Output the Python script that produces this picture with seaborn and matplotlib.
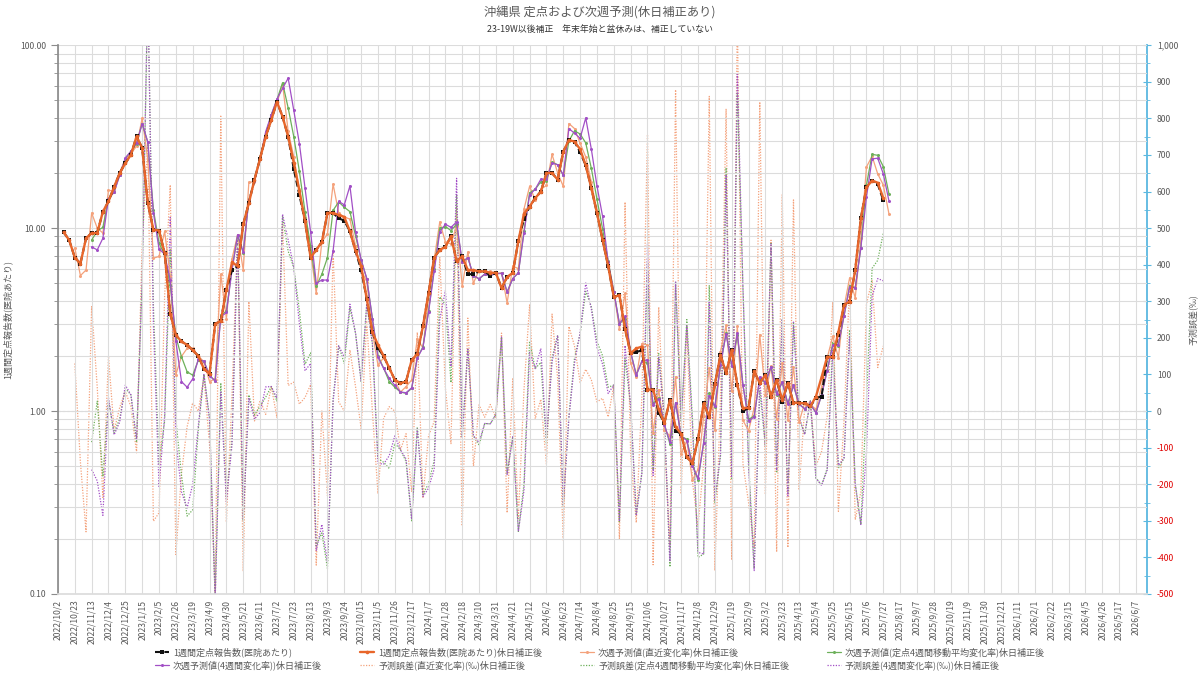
import pandas as pd
import matplotlib
matplotlib.use("Agg")
import matplotlib.pyplot as plt
import matplotlib.ticker as mticker
import seaborn as sns

# 週 (2022/10/2 から 195 週分のカテゴリ)
weeks = pd.date_range("2022-10-02", periods=195, freq="7D")
tick_weeks = weeks[::3]
tick_labels = [f"{d.year}/{d.month}/{d.day}" for d in tick_weeks]

# 1週間定点報告数 (週番号 1 から)
obs_start = 1
raw_cases = [
    9.5, 8.6, 6.9, 6.4, 8.8, 9.4, 9.4, 12.3, 14.0, 16.8,
    20.0, 22.6, 25.2, 31.7, 27.4, 13.7, 9.8, 9.7, 7.3, 3.4,
    2.6, 2.4, 2.3, 2.15, 2.0, 1.7, 1.6, 3.0, 3.1, 4.6,
    5.9, 6.2, 10.5, 13.7, 18.4, 24.0, 31.6, 39.0, 49.0, 40.7,
    31.6, 21.0, 15.2, 10.9, 6.9, 7.6, 8.4, 12.1, 12.1, 11.3,
    11.0, 9.6, 7.5, 5.9, 4.1, 2.7, 2.2, 2.0, 1.72, 1.48,
    1.42, 1.45, 1.9, 2.05, 2.9, 4.4, 6.9, 7.6, 7.9, 9.0,
    6.6, 7.0, 5.6, 5.6, 5.8, 5.8, 5.5, 5.7, 4.7, 5.4,
    5.7, 8.5, 11.2, 13.1, 14.6, 15.8, 20.0, 20.0, 18.4, 26.2,
    30.3, 29.7, 26.0, 22.0, 16.5, 12.1, 8.6, 6.2, 4.2, 4.3,
    2.8, 2.07, 2.1, 2.15, 1.31, 1.31, 0.98, 0.86, 1.15, 0.78,
    0.75, 0.56, 0.52, 0.7, 1.1, 0.93, 1.4, 2.03, 1.61, 2.16,
    1.39, 1.0, 1.04, 1.65, 1.42, 1.58, 1.2, 1.48, 1.12, 1.42,
    1.11, 1.11, 1.1, 1.06, 1.18, 1.2, 1.98, 1.97, 2.6, 3.8,
    3.97, 5.9, 11.3, 16.7, 18.2, 17.4, 14.2,
]
adj_cases = [
    9.5, 8.6, 6.9, 6.4, 8.8, 9.4, 9.4, 12.3, 14.0, 16.8,
    20.0, 22.6, 25.2, 31.7, 27.4, 13.7, 9.8, 9.7, 7.3, 3.4,
    2.6, 2.4, 2.3, 2.15, 2.0, 1.7, 1.6, 3.0, 3.1, 4.6,
    6.5, 6.2, 10.5, 13.7, 18.4, 24.0, 31.6, 39.0, 49.0, 40.7,
    31.6, 22.7, 16.0, 10.9, 6.9, 7.6, 8.4, 12.1, 12.1, 11.8,
    11.5, 9.6, 7.5, 6.2, 4.1, 2.7, 2.3, 2.0, 1.72, 1.48,
    1.42, 1.45, 1.9, 2.05, 2.9, 4.4, 6.9, 7.6, 7.9, 9.0,
    6.6, 7.0, 5.9, 5.9, 5.8, 5.8, 5.7, 5.7, 4.7, 5.4,
    5.7, 8.5, 12.0, 13.1, 14.6, 15.8, 20.0, 20.0, 18.4, 26.2,
    30.3, 29.7, 27.0, 22.0, 16.5, 12.1, 8.6, 6.2, 4.2, 4.3,
    2.8, 2.07, 2.2, 2.25, 1.31, 1.31, 1.02, 0.86, 1.15, 0.82,
    0.75, 0.56, 0.52, 0.7, 1.1, 0.93, 1.4, 2.03, 1.61, 2.16,
    1.39, 1.04, 1.04, 1.65, 1.42, 1.58, 1.2, 1.48, 1.15, 1.42,
    1.11, 1.11, 1.1, 1.06, 1.2, 1.53, 1.98, 1.97, 2.7, 3.8,
    3.97, 5.9, 11.3, 16.7, 18.2, 17.7, 14.6,
]

# 次週予測値(直近変化率) 週番号 3 から
pred_a_start = 3
pred_recent = [
    7.8, 5.5, 5.9, 12.1, 10.0, 9.4, 16.1, 15.9,
    20.2, 23.8, 25.5, 28.1, 39.9, 23.7, 6.85, 7.0, 9.6, 5.5,
    1.58, 1.99, 2.2, 2.2, 2.0, 1.86, 1.45, 1.5, 5.6, 3.2,
    6.8, 9.2, 5.9, 17.8, 17.9, 24.7, 31.3, 41.6, 48.1, 61.6,
    33.8, 24.5, 16.3, 11.3, 7.4, 4.4, 8.4, 9.3, 17.4, 12.1,
    11.5, 11.2, 8.0, 5.9, 5.1, 2.7, 1.78, 1.96, 1.74, 1.48,
    1.27, 1.36, 1.48, 2.49, 2.21, 4.1, 6.7, 10.8, 8.4, 8.2,
    10.3, 4.8, 7.4, 5.0, 5.9, 5.7, 5.8, 5.6, 5.7, 3.9,
    6.2, 6.0, 12.7, 16.9, 14.3, 16.3, 17.1, 25.3, 20.0, 16.9,
    37.3, 35.0, 29.1, 24.5, 17.9, 12.4, 8.9, 6.1, 4.5, 2.8,
    4.4, 1.82, 1.53, 2.34, 2.3, 0.76, 1.31, 0.79, 0.73, 1.54,
    0.58, 0.69, 0.42, 0.48, 0.94, 1.73, 0.79, 2.11, 2.94, 1.28,
    2.9, 0.89, 0.78, 1.04, 2.62, 1.22, 1.76, 0.91, 1.83, 0.89,
    1.75, 0.87, 1.11, 1.09, 1.02, 1.36, 1.95, 2.56, 1.96, 3.7,
    5.35, 4.15, 8.8, 21.6, 24.7, 19.8, 17.2, 12.0,
]

# 次週予測値(定点4週間移動平均変化率) / (4週間変化率) 週番号 6 から
pred_bc_start = 6
pred_ma4 = [
    8.6, 9.65, 10.1, 14.4, 15.8,
    19.6, 24.0, 26.3, 29.0, 37.3, 29.4, 12.6, 8.3, 7.1, 4.9,
    2.54, 1.98, 1.64, 1.57, 1.9, 1.87, 1.57, 1.46, 3.34, 3.51,
    6.0, 9.1, 7.35, 14.3, 18.2, 24.3, 32.8, 41.6, 50.3, 62.3,
    45.4, 31.6, 20.4, 12.3, 8.0, 4.8, 5.6, 6.9, 12.5, 13.9,
    13.0, 12.3, 9.1, 6.7, 5.3, 3.2, 2.0, 1.72, 1.45, 1.35,
    1.27, 1.25, 1.33, 1.96, 2.24, 3.53, 5.96, 9.97, 10.2, 9.7,
    10.5, 6.5, 6.9, 5.5, 5.26, 5.6, 5.5, 5.65, 5.65, 4.48,
    5.3, 5.7, 9.6, 15.6, 16.3, 17.9, 18.2, 22.9, 22.2, 19.4,
    29.9, 34.0, 32.7, 29.2, 21.2, 14.4, 9.9, 6.6, 4.5, 3.0,
    3.2, 2.1, 1.58, 1.87, 1.84, 1.1, 1.18, 0.85, 0.66, 1.11,
    0.73, 0.70, 0.51, 0.42, 0.67, 1.25, 1.05, 1.78, 2.68, 1.76,
    2.6, 1.39, 0.9, 0.94, 1.5, 1.43, 1.75, 1.23, 1.44, 1.1,
    1.38, 1.09, 1.03, 1.09, 0.98, 1.22, 1.67, 2.34, 2.28, 3.31,
    4.85, 4.73, 7.8, 17.2, 25.3, 25.0, 21.7, 15.4,
]
pred_4wk = [
    7.9, 7.6, 8.8, 14.5, 15.7,
    19.4, 24.2, 26.3, 29.2, 37.2, 29.6, 12.1, 7.7, 7.2, 5.2,
    2.4, 1.45, 1.35, 1.5, 1.92, 1.87, 1.56, 1.46, 3.26, 3.46,
    5.9, 9.2, 7.4, 14.2, 18.0, 23.9, 33.7, 41.6, 50.7, 58.0,
    66.0, 44.0, 29.0, 16.6, 9.5, 5.0, 5.2, 5.2, 7.5, 14.0,
    13.4, 17.0, 9.5, 6.7, 5.3, 3.2, 1.97, 1.71, 1.51, 1.38,
    1.27, 1.26, 1.34, 1.95, 2.22, 3.47, 5.8, 9.5, 10.5, 10.1,
    10.8, 6.5, 6.9, 5.5, 5.3, 5.6, 5.5, 5.65, 5.65, 4.46,
    5.3, 5.7, 9.4, 15.2, 16.3, 18.5, 18.5, 22.7, 22.2, 19.5,
    35.0, 33.0, 31.0, 40.0, 27.0, 17.0, 11.6, 6.5, 4.5, 3.0,
    3.3, 2.1, 1.57, 1.87, 1.91, 1.08, 1.17, 0.84, 0.68, 1.11,
    0.73, 0.69, 0.50, 0.43, 0.67, 1.21, 1.06, 1.79, 2.65, 1.77,
    2.67, 1.39, 0.88, 0.93, 1.54, 1.43, 1.75, 1.24, 1.44, 1.09,
    1.38, 1.09, 1.03, 1.09, 0.98, 1.22, 1.66, 2.29, 2.3, 3.31,
    4.77, 4.72, 7.8, 14.8, 23.9, 24.1, 19.8, 14.1,
]

# 予測誤差(‰)
err_a_start = 3
err_recent = [
    130, -140, -330, 287, 64, -236, 150, -54,
    10, 53, 12, -114, 456, 730, -301, -278, 315, 618,
    -392, -171, -43, 23, 0, 94, -94, -500, 806, -304,
    46, 484, -438, 299, -27, 29, -9, 67, -18, 514,
    70, 79, 19, 37, 72, -421, 0, -231, 438, 25,
    0, 167, 67, -48, 244, 0, -226, -20, 12, 0,
    -106, -62, -221, 215, -238, -68, -29, 421, 63, -89,
    560, -314, 254, -153, 17, -17, 18, -18, 213, -278,
    88, -294, 58, 290, -21, 32, -145, 265, 87, -355,
    231, 178, 78, 114, 85, 25, 35, -16, 71, -349,
    571, -121, -305, 40, 756, -420, 284, -81, -365, 878,
    -227, 232, -192, -314, -145, 860, -436, 39, 826, -407,
    1086, -144, -250, -370, 845, -228, 467, -385, 591, -373,
    577, -216, 9, 28, -150, -111, -15, 299, -274, -26,
    348, -297, -221, 293, 357, 119, 178,
]
err_bc_start = 6
err_ma4 = [
    -85, 27, -179, 29, -60,
    -20, 62, 44, -85, 361, 1146, 286, -144, -27, 441,
    -23, -175, -287, -270, -50, 100, -19, -513, 77, -237,
    -77, 468, -300, 44, -11, 13, 38, 67, 27, 531,
    437, 392, 275, 128, 159, -368, -333, -430, 33, 178,
    130, 281, 213, 81, 293, 185, -130, -140, -157, -88,
    -106, -138, -300, -44, -228, -198, -136, 312, 291, 78,
    591, -71, 169, -68, -93, -34, -35, -9, 202, -170,
    -70, -329, -200, 191, 116, 133, -90, 145, 207, -260,
    -13, 145, 211, 327, 285, 190, 151, 65, 71, -302,
    143, 14, -282, -169, 405, -160, 157, -12, -426, 354,
    -27, 250, -19, -400, -391, 344, -250, -123, 665, -185,
    871, 337, -135, -430, 56, -95, 458, -169, 252, -225,
    243, -18, -64, 28, -183, -203, -157, 188, -156, -129,
    222, -198, -310, 30, 390, 412, 486,
]
err_4wk = [
    -160, -191, -285, 36, -65,
    -30, 71, 44, -79, 358, 1161, 235, -206, -14, 529,
    -77, -221, -265, -200, -40, 100, -25, -513, 52, -248,
    -92, 484, -295, 36, -22, -4, 66, 67, 35, 538,
    468, 392, 238, 110, 130, -382, -310, -413, 25, 178,
    148, 292, 213, 81, 293, 185, -143, -145, -122, -68,
    -106, -131, -295, -49, -234, -211, -159, 250, 329, 122,
    636, -71, 169, -68, -86, -34, -35, -9, 202, -174,
    -70, -329, -217, 160, 116, 171, -75, 135, 207, -256,
    -20, 131, 215, 350, 279, 174, 128, 48, 71, -302,
    179, 14, -286, -169, 458, -176, 147, -23, -409, 354,
    -27, 232, -38, -386, -391, 301, -243, -118, 646, -181,
    921, 337, -154, -436, 85, -95, 458, -162, 252, -232,
    243, -18, -64, 28, -183, -203, -162, 162, -148, -129,
    202, -200, -310, -114, 313, 362, 356,
]


def series_df(values, first):
    return pd.DataFrame({"週": weeks[first:first + len(values)], "値": values})


sns.set_theme(style="white")
plt.rcParams["font.family"] = ["Noto Sans CJK JP", "DejaVu Sans"]
plt.rcParams["axes.unicode_minus"] = False

fig = plt.figure(figsize=(12, 6.74), dpi=100)
ax = fig.add_axes([0.0483, 0.1187, 0.9077, 0.8143])
ax2 = ax.twinx()
ax.set_zorder(ax2.get_zorder() + 1)
ax.patch.set_visible(False)

text_gray = "#595959"
c_main = "#E8662A"
c_recent = "#F4A27C"
c_ma4 = "#6DB05A"
c_4wk = "#A24FC6"

# 予測誤差 (右軸)
ax2.axhline(0, color="#cfcfcf", lw=0.8, ls=(0, (2, 2)), zorder=0)
sns.lineplot(data=series_df(err_recent, err_a_start), x="週", y="値", ax=ax2,
             color=c_recent, linewidth=0.9, linestyle=(0, (1, 1.2)),
             label="予測誤差(直近変化率)(‰)休日補正後")
sns.lineplot(data=series_df(err_ma4, err_bc_start), x="週", y="値", ax=ax2,
             color=c_ma4, linewidth=0.9, linestyle=(0, (1, 1.2)),
             label="予測誤差(定点4週間移動平均変化率)休日補正後")
sns.lineplot(data=series_df(err_4wk, err_bc_start), x="週", y="値", ax=ax2,
             color=c_4wk, linewidth=0.9, linestyle=(0, (1, 1.2)),
             label="予測誤差(4週間変化率)(‰))休日補正後")

# 定点報告数と次週予測 (左軸)
sns.lineplot(data=series_df(pred_recent, pred_a_start), x="週", y="値", ax=ax,
             color=c_recent, linewidth=0.9, marker="o", markersize=2.2,
             markeredgewidth=0, label="次週予測値(直近変化率)休日補正後", zorder=3)
sns.lineplot(data=series_df(pred_ma4, pred_bc_start), x="週", y="値", ax=ax,
             color=c_ma4, linewidth=0.9, marker="o", markersize=2.2,
             markeredgewidth=0, label="次週予測値(定点4週間移動平均変化率)休日補正後", zorder=3)
sns.lineplot(data=series_df(pred_4wk, pred_bc_start), x="週", y="値", ax=ax,
             color=c_4wk, linewidth=0.9, marker="o", markersize=2.2,
             markeredgewidth=0, label="次週予測値(4週間変化率))休日補正後", zorder=3)
sns.lineplot(data=series_df(raw_cases, obs_start), x="週", y="値", ax=ax,
             color="#111111", linewidth=1.5, linestyle=(0, (3, 1.5)), marker="s",
             markersize=2.2, markeredgewidth=0, label="1週間定点報告数(医院あたり)", zorder=4)
sns.lineplot(data=series_df(adj_cases, obs_start), x="週", y="値", ax=ax,
             color=c_main, linewidth=1.7, marker="o", markersize=2.6,
             markeredgewidth=0, label="1週間定点報告数(医院あたり)休日補正後", zorder=5)

for a in (ax, ax2):
    if a.get_legend() is not None:
        a.get_legend().remove()

# 左軸 (対数)
ax.set_yscale("log")
ax.set_ylim(0.1, 100)
ax.set_yticks([0.1, 1, 10, 100])
ax.set_yticklabels(["0.10", "1.00", "10.00", "100.00"])
ax.yaxis.set_minor_locator(mticker.LogLocator(base=10, subs=range(2, 10)))
ax.yaxis.set_minor_formatter(mticker.NullFormatter())
ax.set_ylabel("1週間定点報告数(医院あたり)", fontsize=6.5, color=text_gray)
ax.yaxis.set_label_coords(-0.042, 0.5)
ax.tick_params(axis="y", which="major", labelsize=6.2, colors=text_gray, length=5,
               direction="out", left=True, color="#8c8c8c", width=0.8)
ax.tick_params(axis="y", which="minor", length=3, direction="out", left=True,
               color="#8c8c8c", width=0.6)

# X 軸
ax.set_xlim(weeks[0], weeks[194])
ax.set_xticks(tick_weeks)
ax.set_xticklabels(tick_labels, rotation=90)
ax.tick_params(axis="x", labelsize=6.2, colors=text_gray, length=0, pad=4)
ax.set_xlabel("")
ax.grid(which="major", axis="both", color="#dcdcdc", linewidth=0.8)
ax.grid(which="minor", axis="y", color="#dcdcdc", linewidth=0.8)
ax.set_axisbelow(True)

# 右軸 (‰)
err_ticks = list(range(-500, 1001, 100))
ax2.set_ylim(-500, 1000)
ax2.set_yticks(err_ticks)
ax2.set_yticklabels([f"{t:,}" for t in err_ticks])
ax2.yaxis.set_minor_locator(mticker.MultipleLocator(50))
for t, lab in zip(err_ticks, ax2.get_yticklabels()):
    lab.set_color("#E00000" if t < 0 else text_gray)
ax2.tick_params(axis="y", which="major", labelsize=6.2, length=6, direction="inout",
                right=True, color="#5BB8E0", width=0.8, pad=4)
ax2.tick_params(axis="y", which="minor", length=4, direction="inout", right=True,
                color="#5BB8E0", width=0.6)
ax2.set_ylabel("予測誤差(‰)", fontsize=6.5, color=text_gray, rotation=90)
ax2.yaxis.set_label_coords(1.037, 0.5)
ax2.set_xlabel("")

for name in ("top", "right"):
    ax.spines[name].set_visible(False)
ax.spines["left"].set_color("#8c8c8c")
ax.spines["bottom"].set_color("#dcdcdc")
for name in ("top", "left", "bottom"):
    ax2.spines[name].set_visible(False)
ax2.spines["right"].set_color("#5BB8E0")
ax2.spines["right"].set_linewidth(1.3)

# タイトル
fig.text(0.5, 1 - 13 / 674, "沖縄県 定点および次週予測(休日補正あり)",
         ha="center", va="center", fontsize=8.8, color=text_gray)
fig.text(0.5, 1 - 29 / 674, "23-19W以後補正　年末年始と盆休みは、補正していない",
         ha="center", va="center", fontsize=6.4, color="#333333")

# 凡例
h1, l1 = ax.get_legend_handles_labels()
h2, l2 = ax2.get_legend_handles_labels()
lookup = dict(zip(l1 + l2, h1 + h2))
order = [
    "1週間定点報告数(医院あたり)",
    "次週予測値(4週間変化率))休日補正後",
    "1週間定点報告数(医院あたり)休日補正後",
    "予測誤差(直近変化率)(‰)休日補正後",
    "次週予測値(直近変化率)休日補正後",
    "予測誤差(定点4週間移動平均変化率)休日補正後",
    "次週予測値(定点4週間移動平均変化率)休日補正後",
    "予測誤差(4週間変化率)(‰))休日補正後",
]
fig.legend([lookup[k] for k in order], order, ncol=4, loc="center",
           bbox_to_anchor=(0.5, 1 - 659 / 674), frameon=False, fontsize=6.5,
           handlelength=1.6, handletextpad=0.4, columnspacing=4.2,
           labelcolor=text_gray, labelspacing=0.3)

fig.savefig("out.png", dpi=100, facecolor="white")
